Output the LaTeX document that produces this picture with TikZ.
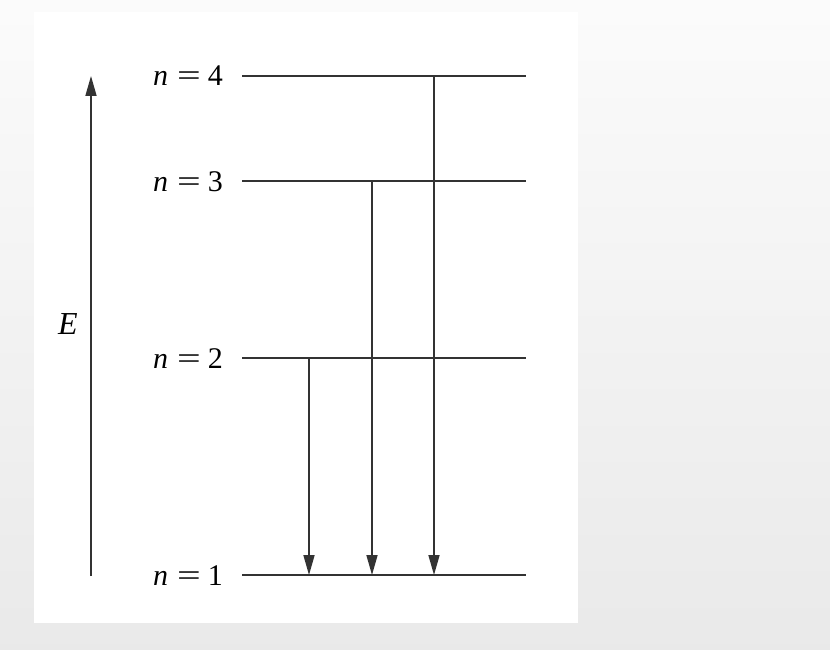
\documentclass[tikz,border=0pt]{standalone}
\usepackage{fontspec}
\usepackage{graphicx}
\setmainfont{Liberation Serif}
\usetikzlibrary{arrows.meta}
\newcommand\levlab[1]{\textit{n}\hspace{9pt}\raisebox{0pt}{\scalebox{1.4}[1]{=}}\hspace{7pt}#1}
\begin{document}
\begin{tikzpicture}[x=1pt,y=-1pt,
  levelline/.style={line width=1.7pt, draw=black!80},
  trans/.style={line width=1.7pt, draw=black!80, -{Triangle[length=20pt,width=11pt]}},
  lab/.style={anchor=base east, inner sep=0pt, font=\fontsize{30}{34}\selectfont}]
\useasboundingbox (0,0) rectangle (830,650);
\shade[top color=white!98.5!black, bottom color=white!91.5!black] (0,0) rectangle (830,650);
\fill[white] (34,12) rectangle (578,623);
% level end points
\foreach \k/\yy in {1/575,2/358,3/181,4/76}{
  \coordinate (L\k) at (242,\yy);
  \coordinate (R\k) at (526,\yy);
  \node[lab] (n\k) at (223,\yy+10) {\levlab{\k}};
  \draw[levelline] (L\k) -- (R\k);
}
% transition points
\coordinate (t2top) at (309,358);
\coordinate (t2bot) at (309,575);
\coordinate (t3top) at (372,181);
\coordinate (t3bot) at (372,575);
\coordinate (t4top) at (434,76);
\coordinate (t4bot) at (434,575);
\draw[trans] (t2top) -- (t2bot);
\draw[trans] (t3top) -- (t3bot);
\draw[trans] (t4top) -- (t4bot);
% energy axis
\coordinate (Ebot) at (91,576);
\coordinate (Etop) at (91,76);
\draw[trans] (Ebot) -- (Etop);
\node[inner sep=0pt, font=\fontsize{32}{36}\selectfont\itshape] (E) at (68,324) {E};
\end{tikzpicture}
\end{document}
